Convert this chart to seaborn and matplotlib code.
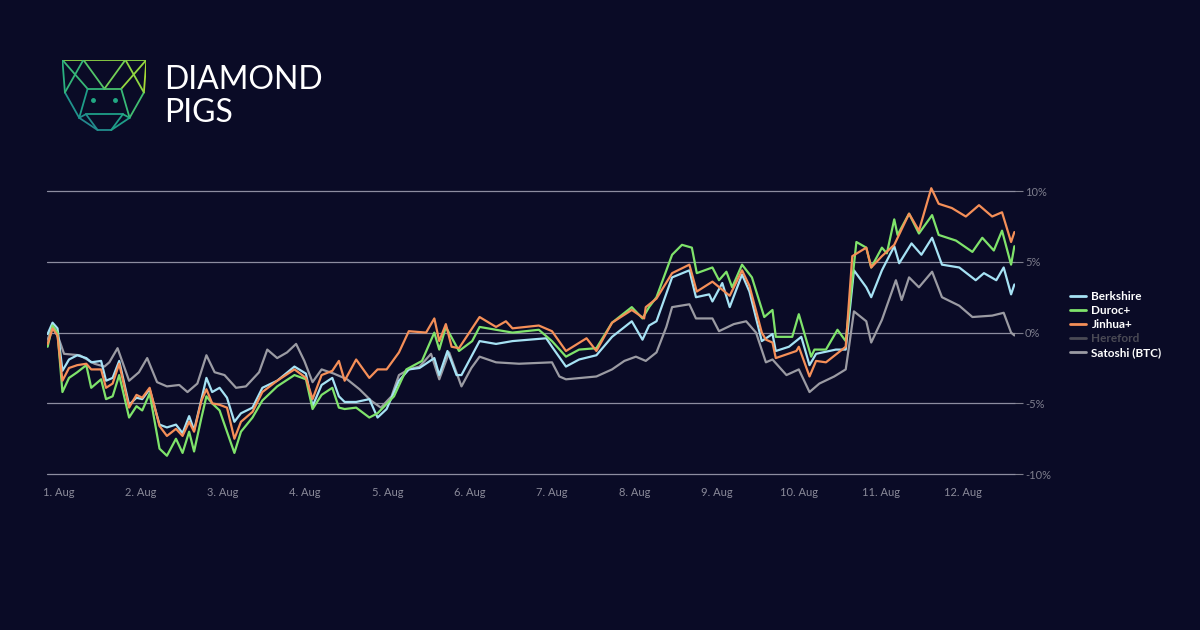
import matplotlib
matplotlib.use("Agg")
import matplotlib.pyplot as plt
import seaborn as sns
import pandas as pd
import numpy as np

berk_day = [0.87,0.93,0.99,1.05,1.13,1.23,1.34,1.40,1.52,1.58,1.66,1.74,1.86,1.95,2.02,2.11,2.23,2.32,2.43,2.51,2.59,2.65,2.74,2.80,2.87,2.96,3.05,3.14,3.22,3.36,3.48,3.66,3.87,4.01,4.09,4.20,4.33,4.41,4.48,4.62,4.78,4.88,4.99,5.14,5.26,5.39,5.57,5.63,5.73,5.84,5.90,6.12,6.32,6.52,6.93,7.00,7.17,7.33,7.54,7.73,7.97,8.10,8.18,8.27,8.46,8.67,8.75,8.91,8.95,9.07,9.16,9.31,9.40,9.55,9.68,9.72,9.88,10.03,10.13,10.21,10.45,10.57,10.67,10.82,10.88,11.01,11.16,11.22,11.37,11.49,11.62,11.74,11.95,12.15,12.25,12.40,12.49,12.58,12.62]
berk_val = [-0.1,0.7,0.3,-2.7,-1.9,-1.6,-1.8,-2.1,-2.0,-3.4,-3.2,-2.0,-5.1,-4.6,-4.7,-4.0,-6.5,-6.7,-6.5,-7.1,-5.9,-6.9,-4.7,-3.2,-4.2,-3.9,-4.6,-6.3,-5.7,-5.3,-3.9,-3.4,-2.4,-2.9,-5.2,-3.7,-3.2,-4.5,-4.9,-4.9,-4.7,-6.0,-5.4,-3.4,-2.6,-2.5,-1.8,-3.0,-1.3,-3.0,-3.0,-0.6,-0.8,-0.6,-0.4,-1.0,-2.4,-1.9,-1.6,-0.3,0.8,-0.5,0.5,0.8,3.9,4.4,2.5,2.7,2.2,3.5,1.8,4.1,2.9,-0.6,-0.1,-1.3,-1.0,-0.3,-2.3,-1.5,-1.2,-1.2,4.4,3.2,2.5,4.4,6.1,4.9,6.3,5.5,6.7,4.8,4.6,3.7,4.2,3.7,4.6,2.7,3.4]

duroc_day = [0.87,0.93,0.99,1.05,1.13,1.23,1.34,1.40,1.52,1.58,1.66,1.74,1.86,1.95,2.02,2.11,2.23,2.32,2.43,2.51,2.59,2.65,2.74,2.80,2.87,2.96,3.14,3.22,3.36,3.48,3.66,3.87,4.01,4.09,4.20,4.33,4.41,4.48,4.62,4.78,4.88,5.08,5.23,5.42,5.57,5.63,5.71,5.87,6.03,6.12,6.32,6.52,6.84,7.00,7.17,7.33,7.54,7.73,7.97,8.10,8.18,8.27,8.46,8.58,8.70,8.76,8.95,9.03,9.12,9.19,9.31,9.43,9.58,9.68,9.72,9.92,10.00,10.15,10.19,10.33,10.47,10.57,10.70,10.82,10.88,11.01,11.07,11.16,11.20,11.34,11.46,11.62,11.70,11.91,12.11,12.23,12.37,12.47,12.58,12.62]
duroc_val = [-1.0,0.5,0.0,-4.2,-3.2,-2.8,-2.3,-3.9,-3.3,-4.7,-4.5,-3.0,-6.0,-5.2,-5.5,-4.3,-8.2,-8.7,-7.5,-8.5,-7.0,-8.4,-6.0,-4.5,-5.0,-5.5,-8.5,-7.0,-6.0,-4.8,-3.8,-3.0,-3.3,-5.4,-4.4,-3.9,-5.3,-5.4,-5.3,-6.0,-5.7,-4.5,-2.6,-2.0,0.0,-1.2,0.4,-1.3,-0.6,0.4,0.2,0.0,0.2,-0.6,-1.7,-1.2,-1.1,0.7,1.8,1.0,1.8,2.5,5.5,6.2,6.0,4.2,4.6,3.7,4.3,3.2,4.8,3.9,1.1,1.6,-0.3,-0.3,1.3,-1.7,-1.2,-1.2,0.2,-0.6,6.4,6.0,4.6,6.0,5.6,8.0,6.9,8.4,7.0,8.3,6.9,6.5,5.7,6.7,5.8,7.2,4.8,6.1]

jinhua_day = [0.87,0.93,0.99,1.05,1.13,1.23,1.34,1.40,1.52,1.58,1.66,1.74,1.86,1.95,2.02,2.11,2.23,2.32,2.43,2.51,2.59,2.65,2.74,2.80,2.87,2.96,3.05,3.14,3.22,3.36,3.48,3.66,3.87,4.01,4.09,4.20,4.33,4.41,4.48,4.62,4.78,4.88,4.99,5.14,5.26,5.47,5.57,5.63,5.71,5.78,5.87,6.12,6.32,6.44,6.52,6.84,7.00,7.17,7.42,7.54,7.73,7.97,8.12,8.14,8.27,8.46,8.67,8.76,8.95,9.16,9.31,9.40,9.55,9.60,9.68,9.72,9.97,10.00,10.13,10.21,10.33,10.57,10.65,10.82,10.88,11.01,11.16,11.34,11.46,11.61,11.70,11.86,12.03,12.19,12.35,12.47,12.58,12.62]
jinhua_val = [-0.8,0.3,-0.2,-3.4,-2.5,-2.3,-2.2,-2.6,-2.6,-3.9,-3.6,-2.2,-5.3,-4.4,-4.6,-3.9,-6.6,-7.3,-6.8,-7.3,-6.3,-7.0,-4.8,-4.0,-5.0,-5.1,-5.3,-7.5,-6.3,-5.6,-4.2,-3.4,-2.6,-3.2,-4.7,-3.0,-2.7,-2.0,-3.4,-1.9,-3.2,-2.6,-2.6,-1.4,0.1,0.0,1.0,-0.6,0.6,-1.0,-1.1,1.1,0.4,0.8,0.3,0.5,0.1,-1.3,-0.4,-1.3,0.7,1.6,1.0,1.8,2.4,4.2,4.8,2.9,3.6,2.6,4.4,3.3,0.0,-0.5,-0.7,-1.8,-1.3,-1.0,-3.1,-2.0,-2.1,-1.0,5.4,6.0,4.6,5.4,6.2,8.4,7.2,10.2,9.1,8.8,8.2,9.0,8.2,8.5,6.4,7.1]

btc_day = [0.87,0.93,1.01,1.07,1.26,1.44,1.56,1.62,1.72,1.86,1.98,2.08,2.20,2.32,2.47,2.57,2.69,2.80,2.90,3.02,3.16,3.28,3.44,3.54,3.66,3.78,3.89,3.99,4.09,4.20,4.35,4.51,4.66,4.80,4.92,5.05,5.14,5.26,5.39,5.53,5.63,5.75,5.90,6.02,6.12,6.32,6.60,7.00,7.09,7.17,7.54,7.73,7.88,8.02,8.14,8.27,8.39,8.46,8.67,8.75,8.95,9.03,9.21,9.36,9.48,9.60,9.68,9.85,10.00,10.13,10.25,10.43,10.57,10.61,10.67,10.82,10.88,11.01,11.18,11.25,11.34,11.46,11.62,11.74,11.95,12.11,12.35,12.49,12.58,12.62]
btc_val = [-0.5,0.5,-0.5,-1.5,-1.6,-2.2,-2.4,-2.1,-1.1,-3.4,-2.8,-1.8,-3.5,-3.8,-3.7,-4.2,-3.6,-1.6,-2.8,-3.0,-3.9,-3.8,-2.8,-1.2,-1.8,-1.4,-0.8,-2.0,-3.5,-2.6,-2.9,-3.3,-4.0,-4.8,-5.3,-4.5,-3.0,-2.6,-2.4,-1.5,-3.3,-1.4,-3.8,-2.5,-1.7,-2.1,-2.2,-2.1,-3.1,-3.3,-3.1,-2.6,-2.0,-1.7,-2.0,-1.4,0.4,1.8,2.0,1.0,1.0,0.1,0.6,0.8,0.0,-2.1,-1.9,-3.0,-2.6,-4.2,-3.6,-3.1,-2.6,-1.0,1.5,0.8,-0.7,0.9,3.7,2.3,3.9,3.2,4.3,2.5,1.9,1.1,1.2,1.4,0.0,-0.2]

series = ["Berkshire", "Duroc+", "Jinhua+", "Hereford", "Satoshi (BTC)"]
colors = ["#a6e2f4", "#7fe36b", "#f58f58", "#4a4a55", "#9b9ba3"]
ticks_day = list(range(1, 13))
tick_labels = [f"{d}. Aug" for d in ticks_day]
y_ticks = [-10, -5, 0, 5, 10]
y_labels = ["-10%", "-5%", "0%", "5%", "10%"]

BG = "#0a0b26"
sns.set_style("dark")
plt.rcParams["font.family"] = ["Lato", "DejaVu Sans"]

fig = plt.figure(figsize=(12, 6.3), dpi=100, facecolor=BG)
ax = fig.add_axes([0.039, 0.244, 0.807, 0.464])
ax.set_facecolor(BG)

frames = []
for name, d, v in [("Berkshire", berk_day, berk_val), ("Duroc+", duroc_day, duroc_val),
                   ("Jinhua+", jinhua_day, jinhua_val), ("Satoshi (BTC)", btc_day, btc_val)]:
    frames.append(pd.DataFrame({"day": d, "val": v, "series": name}))
df = pd.concat(frames)
pal = dict(zip(series, colors))
for name in ["Satoshi (BTC)", "Berkshire", "Duroc+", "Jinhua+"]:
    sns.lineplot(data=df[df.series == name], x="day", y="val", color=pal[name],
                 lw=1.6, ax=ax, legend=False, estimator=None, sort=False)

ax.set_xlim(0.86, 12.63)
ax.set_ylim(-10.15, 10.5)
for y in y_ticks:
    ax.axhline(y, color="#8d8da0", lw=0.9, zorder=0, clip_on=False)
ax.grid(False)
for s in ax.spines.values():
    s.set_visible(False)
ax.set_xlabel(""); ax.set_ylabel("")
ax.set_xticks(ticks_day)
ax.set_xticklabels(tick_labels, color="#8a8a99", fontsize=8)
ax.tick_params(axis="x", color="#8d8da0", length=8, width=0.9, direction="inout", pad=4)
ax.yaxis.tick_right()
ax.set_yticks(y_ticks)
ax.set_yticklabels(y_labels, color="#7d7d8c", fontsize=8)
ax.tick_params(axis="y", length=6, color="#7d7d8c", width=0.8, pad=1)

from matplotlib.lines import Line2D
handles = [Line2D([0], [0], color=c, lw=2) for c in colors]
leg = fig.legend(handles, series, loc="upper left", bbox_to_anchor=(0.883, 0.555),
                 frameon=False, fontsize=8.5, handlelength=1.3, handletextpad=0.5,
                 labelspacing=0.25)
for i, t in enumerate(leg.get_texts()):
    t.set_fontweight("bold")
    t.set_color("#4a4a55" if series[i] == "Hereford" else "#ffffff")

for txt, yy in [("DIAMOND", 0.873), ("PIGS", 0.82)]:
    fig.text(0.137, yy, txt, color="white", fontsize=23, fontfamily="Lato",
             fontweight="normal", va="center", ha="left")
lax = fig.add_axes([0.052, 0.79, 0.07, 0.115])
lax.set_xlim(0, 1); lax.set_ylim(0, 1); lax.axis("off")
shape = [(0, 1), (1, 1), (0.97, 0.55), (0.8, 0.2), (0.58, 0.03), (0.42, 0.03), (0.2, 0.2), (0.03, 0.55), (0, 1)]
segs = list(zip(shape[:-1], shape[1:])) + [
    ((0, 1), (0.3, 0.6)), ((1, 1), (0.7, 0.6)), ((0.25, 1), (0.03, 0.55)), ((0.75, 1), (0.97, 0.55)),
    ((0.25, 1), (0.5, 0.6)), ((0.75, 1), (0.5, 0.6)), ((0.3, 0.6), (0.2, 0.2)), ((0.7, 0.6), (0.8, 0.2)),
    ((0.3, 0.6), (0.5, 0.6)), ((0.5, 0.6), (0.7, 0.6)),
    ((0.28, 0.25), (0.72, 0.25)), ((0.28, 0.25), (0.42, 0.03)), ((0.72, 0.25), (0.58, 0.03)),
    ((0.2, 0.2), (0.28, 0.25)), ((0.8, 0.2), (0.72, 0.25))]
cmap = plt.get_cmap("viridis")
for (a, b) in segs:
    t = ((a[1] + b[1]) / 2) * 0.6 + ((a[0] + b[0]) / 2) * 0.4
    lax.plot([a[0], b[0]], [a[1], b[1]], color=cmap(0.35 + 0.6 * t), lw=1.3)
lax.plot([0.37, 0.63], [0.45, 0.45], "o", color=cmap(0.6), ms=2.5)

fig.savefig("out.png", dpi=100, facecolor=BG)
